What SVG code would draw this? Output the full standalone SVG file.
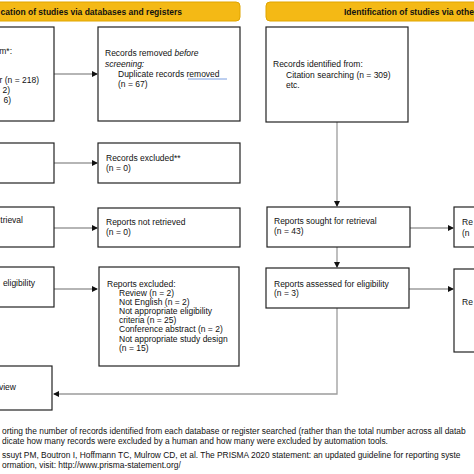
<svg xmlns="http://www.w3.org/2000/svg" width="474" height="474" viewBox="0 0 474 474">
<style>
.box{fill:#fff;stroke:#222;stroke-width:1.2}
.hdr{fill:#F4B915;stroke:#E0A500;stroke-width:1}
.t{font-family:"Liberation Sans",Arial,sans-serif;font-size:8.5px;fill:#111}
.h{font-family:"Liberation Sans",Arial,sans-serif;font-size:8.5px;font-weight:bold;fill:#111}
.f{font-family:"Liberation Sans",Arial,sans-serif;font-size:8.4px;fill:#111}
.c{fill:none;stroke:#9c9c9c;stroke-width:1.3}
</style>
<defs>
<marker id="ah" markerWidth="6" markerHeight="6" refX="5" refY="3" orient="auto" markerUnits="userSpaceOnUse">
<path d="M0,0 L6,3 L0,6 Z" fill="#111"/>
</marker>
</defs>
<rect width="474" height="474" fill="#fff"/>
<g id="header-left">
<rect class="hdr" x="-60" y="2" width="300" height="19" rx="4"/>
<text class="h" x="182" y="15" text-anchor="end">cation of studies via databases and registers</text>
</g>
<g id="header-right">
<rect class="hdr" x="266" y="2" width="260" height="19" rx="4"/>
<text class="h" x="344" y="15">Identification of studies via othe</text>
</g>
<g id="connectors">
<line class="c" x1="54" y1="74" x2="97" y2="74" marker-end="url(#ah)"/>
<line class="c" x1="54" y1="163" x2="97" y2="163" marker-end="url(#ah)"/>
<line class="c" x1="54" y1="228" x2="97" y2="228" marker-end="url(#ah)"/>
<line class="c" x1="54" y1="289" x2="97" y2="289" marker-end="url(#ah)"/>
<line class="c" x1="337" y1="122" x2="337" y2="206" marker-end="url(#ah)"/>
<line class="c" x1="410" y1="228" x2="453" y2="228" marker-end="url(#ah)"/>
<line class="c" x1="337" y1="247" x2="337" y2="267" marker-end="url(#ah)"/>
<line class="c" x1="409" y1="289" x2="453" y2="289" marker-end="url(#ah)"/>
<polyline class="c" points="337,308 337,394 54,394" marker-end="url(#ah)"/>
</g>
<g id="records-identified-db">
<rect class="box" x="-60" y="27" width="114" height="94"/>
<text class="t" x="12" y="54" text-anchor="end">m*:</text>
<text class="t" x="39" y="83" text-anchor="end">r (n = 218)</text>
<text class="t" x="10" y="93" text-anchor="end">2)</text>
<text class="t" x="11" y="103" text-anchor="end">6)</text>
</g>
<g id="records-removed">
<rect class="box" x="98" y="27" width="142" height="94"/>
<text class="t" x="105" y="56">Records removed <tspan font-style="italic">before</tspan></text>
<text class="t" x="105" y="67" font-style="italic">screening:</text>
<text class="t" x="118" y="77">Duplicate records removed</text>
<text class="t" x="118" y="87">(n = 67)</text>
<path d="M188,79 L227,79" stroke="#7a9ee0" stroke-width="1" fill="none"/>
</g>
<g id="records-screened">
<rect class="box" x="-60" y="143" width="114" height="40"/>
</g>
<g id="records-excluded">
<rect class="box" x="98" y="143" width="142" height="40"/>
<text class="t" x="106" y="161">Records excluded**</text>
<text class="t" x="106" y="171">(n = 0)</text>
</g>
<g id="reports-sought-db">
<rect class="box" x="-60" y="207" width="114" height="40"/>
<text class="t" x="23" y="223" text-anchor="end">trieval</text>
</g>
<g id="reports-not-retrieved-db">
<rect class="box" x="98" y="208" width="142" height="39"/>
<text class="t" x="106" y="225">Reports not retrieved</text>
<text class="t" x="106" y="235">(n = 0)</text>
</g>
<g id="reports-assessed-db">
<rect class="box" x="-60" y="267" width="114" height="40"/>
<text class="t" x="35" y="286" text-anchor="end">eligibility</text>
</g>
<g id="reports-excluded-db">
<rect class="box" x="99" y="267" width="140" height="99"/>
<text class="t" x="107" y="287">Reports excluded:</text>
<text class="t" x="119" y="296">Review (n = 2)</text>
<text class="t" x="119" y="305">Not English (n = 2)</text>
<text class="t" x="119" y="314">Not appropriate eligibility</text>
<text class="t" x="119" y="323">criteria (n = 25)</text>
<text class="t" x="119" y="332">Conference abstract (n = 2)</text>
<text class="t" x="119" y="342">Not appropriate study design</text>
<text class="t" x="119" y="351">(n = 15)</text>
</g>
<g id="included">
<rect class="box" x="-60" y="366" width="112" height="44"/>
<text class="t" x="16" y="390" text-anchor="end">view</text>
</g>
<g id="records-identified-other">
<rect class="box" x="266" y="27" width="142" height="95"/>
<text class="t" x="273" y="67">Records identified from:</text>
<text class="t" x="286" y="78">Citation searching (n = 309)</text>
<text class="t" x="286" y="88">etc.</text>
</g>
<g id="reports-sought-other">
<rect class="box" x="267" y="207" width="143" height="40"/>
<text class="t" x="274" y="224">Reports sought for retrieval</text>
<text class="t" x="274" y="234">(n = 43)</text>
</g>
<g id="reports-not-retrieved-other">
<rect class="box" x="454" y="207" width="80" height="40"/>
<text class="t" x="462" y="225">Re</text>
<text class="t" x="462" y="236">(n</text>
</g>
<g id="reports-assessed-other">
<rect class="box" x="266" y="268" width="143" height="40"/>
<text class="t" x="274" y="287">Reports assessed for eligibility</text>
<text class="t" x="274" y="296">(n = 3)</text>
</g>
<g id="reports-excluded-other">
<rect class="box" x="454" y="269" width="80" height="83"/>
<text class="t" x="462" y="305">Re</text>
</g>
<g id="footnotes">
<text class="f" x="2" y="434">orting the number of records identified from each database or register searched (rather than the total number across all datab</text>
<text class="f" x="2" y="444">dicate how many records were excluded by a human and how many were excluded by automation tools.</text>
<text class="f" x="2" y="458">ssuyt PM, Boutron I, Hoffmann TC, Mulrow CD, et al. The PRISMA 2020 statement: an updated guideline for reporting syste</text>
<text class="f" x="2" y="468">ormation, visit: http://www.prisma-statement.org/</text>
</g>
</svg>
